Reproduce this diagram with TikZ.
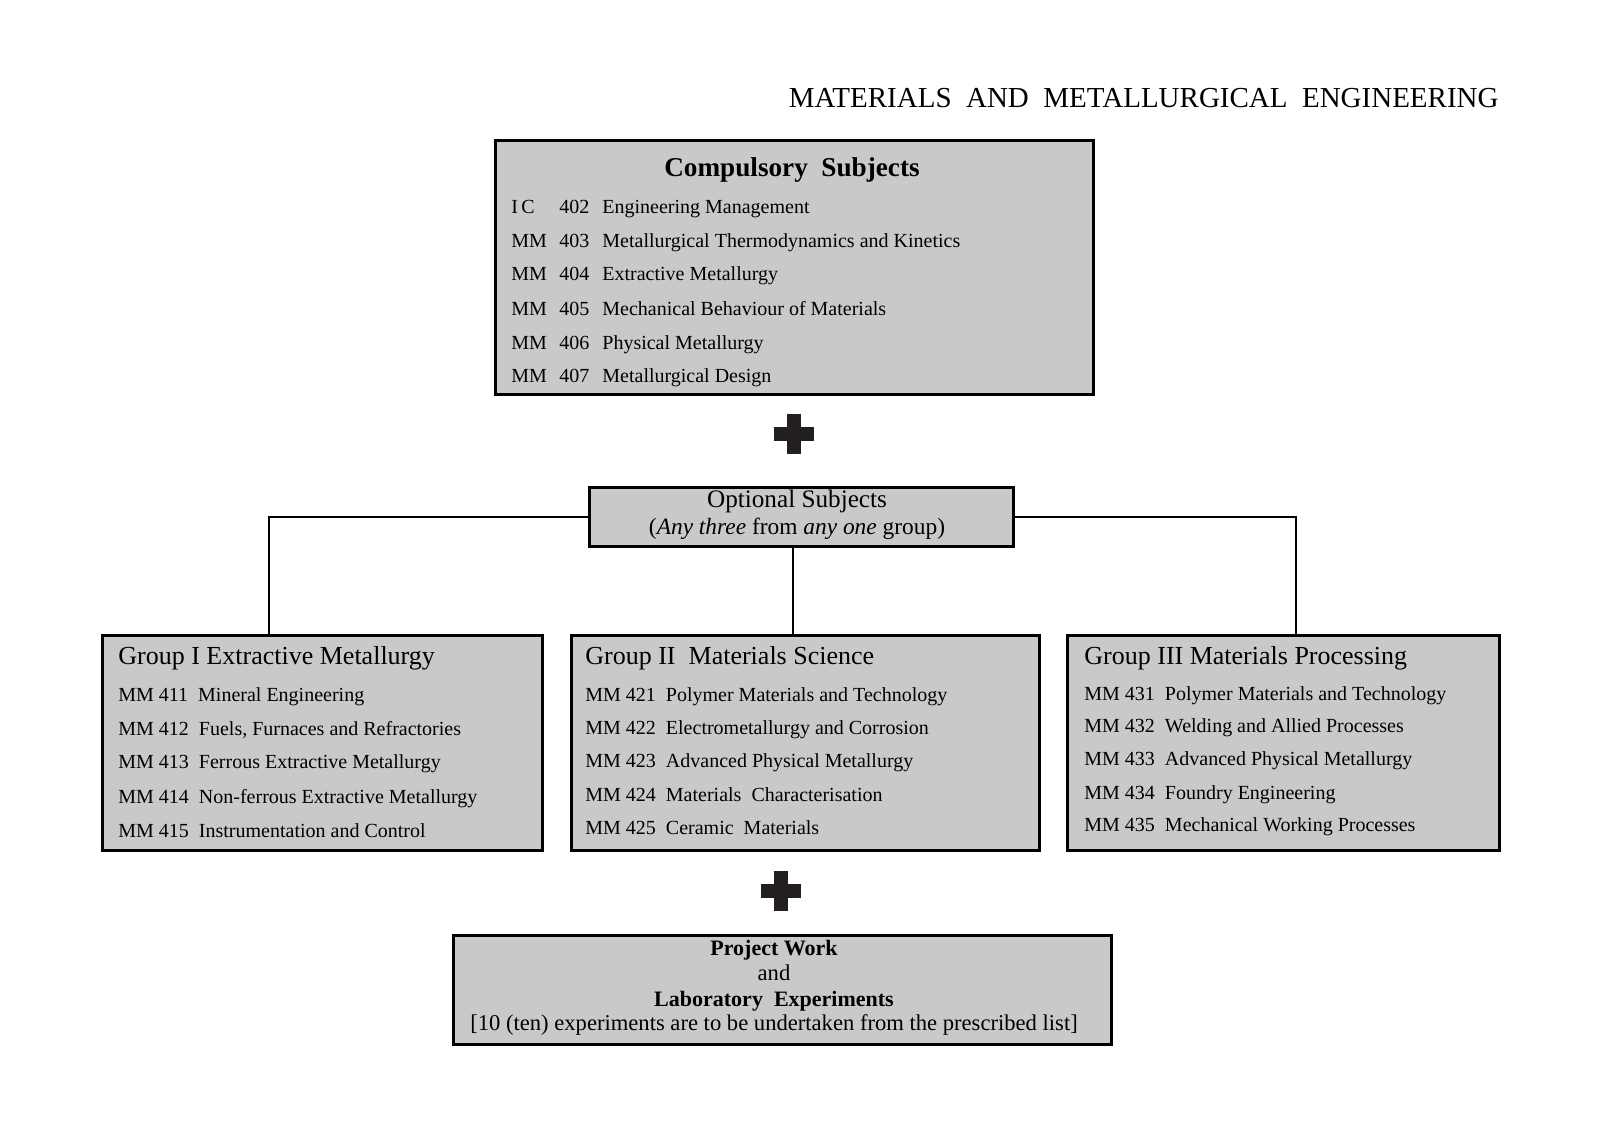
\documentclass[tikz,border=0pt]{standalone}
\usepackage{fontspec}
\setmainfont{Liberation Serif}
\definecolor{boxgray}{RGB}{200,201,203}
\definecolor{plusblack}{RGB}{35,31,32}

\begin{document}
\begin{tikzpicture}[x=0.5pt,y=-0.5pt,
  box/.style={draw,line width=1.5pt,fill=boxgray,anchor=north west,inner sep=0pt},
  item/.style={anchor=mid west,inner sep=0pt,yshift=-2pt,font=\fontsize{10}{12}\selectfont},
  head/.style={anchor=mid west,inner sep=0pt,yshift=-2pt,font=\fontsize{13}{15}\selectfont},
  mline/.style={anchor=mid,inner sep=0pt,yshift=-1.5pt,font=\fontsize{11.3}{13}\selectfont},
  link/.style={line width=1.2pt}]
\useasboundingbox (0,0) rectangle (1600,1131);
\node[anchor=base east,inner sep=0pt,font=\fontsize{14.5}{16}\selectfont] (title) at (1499,107) {MATERIALS\ \ AND\ \ METALLURGICAL\ \ ENGINEERING};
\node[box,minimum width=299pt,minimum height=127pt] (comp) at (494,139) {};
\node[anchor=mid,inner sep=0pt,yshift=-3pt,font=\bfseries\fontsize{13.6}{16}\selectfont] (comphead) at (792,166) {Compulsory\ \ Subjects};
\foreach \y/\c/\n/\t in {205/{I\,C}/402/Engineering Management,239/MM/403/Metallurgical Thermodynamics and Kinetics,
    272/MM/404/Extractive Metallurgy,307/MM/405/Mechanical Behaviour of Materials,
    341/MM/406/Physical Metallurgy,374/MM/407/Metallurgical Design} {
  \node[item] (cc\n) at (511,\y) {\c};
  \node[item] (cn\n) at (559,\y) {\n};
  \node[item] (ct\n) at (602,\y) {\t};}
\foreach \cx/\cy in {794/434,781/891} {
  \fill[plusblack] (\cx-20,\cy-7) rectangle (\cx+20,\cy+7);
  \fill[plusblack] (\cx-7,\cy-20) rectangle (\cx+7,\cy+20);}
\node[box,minimum width=212pt,minimum height=29.5pt] (opt) at (588,486) {};
\node[mline,font=\fontsize{12.6}{14}\selectfont] (opthead) at (797,500) {Optional Subjects};
\node[mline,font=\fontsize{11.7}{14}\selectfont] (optnote) at (797,527) {(\textit{Any three} from \textit{any one} group)};
\node[box,minimum width=220pt,minimum height=107.5pt] (g1) at (101,634) {};
\node[box,minimum width=234pt,minimum height=107.5pt] (g2) at (570,634) {};
\node[box,minimum width=216pt,minimum height=107.5pt] (g3) at (1066,634) {};
\coordinate (g1top) at (269,634);
\coordinate (g2top) at (793,634);
\coordinate (g3top) at (1296,634);
\draw[link] (opt.west) -| (g1top);
\draw[link] (opt.east) -| (g3top);
\draw[link] (opt.south -| g2top) -- (g2top);
\node[head] (g1head) at (118,656) {Group I Extractive Metallurgy};
\node[head] (g2head) at (585,656) {Group II\ \ Materials Science};
\node[head] (g3head) at (1084,656) {Group III Materials Processing};
\foreach \y/\n/\t in {693/411/Mineral Engineering,727/412/{Fuels, Furnaces and Refractories},
    760/413/Ferrous Extractive Metallurgy,795/414/Non-ferrous Extractive Metallurgy,829/415/Instrumentation and Control}
  \node[item] (m\n) at (118,\y) {MM \n\enspace\t};
\foreach \y/\n/\t in {693/421/Polymer Materials and Technology,726/422/Electrometallurgy and Corrosion,
    759/423/Advanced Physical Metallurgy,793/424/Materials\ \ Characterisation,826/425/Ceramic\ \ Materials}
  \node[item] (m\n) at (585,\y) {MM \n\enspace\t};
\foreach \y/\n/\t in {692/431/Polymer Materials and Technology,724/432/Welding and Allied Processes,
    757/433/Advanced Physical Metallurgy,791/434/Foundry Engineering,823/435/Mechanical Working Processes}
  \node[item] (m\n) at (1084,\y) {MM \n\enspace\t};
\node[box,minimum width=329pt,minimum height=54.5pt] (proj) at (452,934) {};
\node[mline,font=\bfseries\fontsize{11}{13}\selectfont] (projhead) at (774,948) {Project Work};
\node[mline] (projand) at (774,973) {and};
\node[mline,font=\bfseries\fontsize{11}{13}\selectfont] (labhead) at (774,999) {Laboratory\ \ Experiments};
\node[mline] (labnote) at (774,1023) {[10 (ten) experiments are to be undertaken from the prescribed list]};
\end{tikzpicture}
\end{document}
